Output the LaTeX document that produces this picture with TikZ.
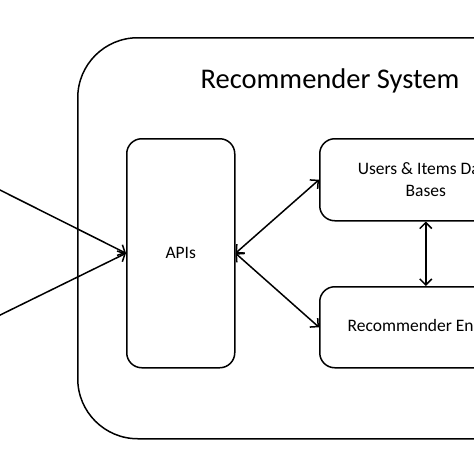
\documentclass[tikz,border=0pt]{standalone}
\usepackage{fontspec}
\setmainfont{Carlito}
\usetikzlibrary{arrows.meta}
\begin{document}
\begin{tikzpicture}[x=1pt,y=-1pt,
  box/.style={draw, line width=1.5pt, rounded corners=#1, inner sep=0pt, align=center, font=\fontsize{17.5}{22}\selectfont},
  box/.default=15pt,
  link/.style={line width=1.5pt, {Straight Barb[length=6pt,width=12pt]}-{Straight Barb[length=6pt,width=12pt]}},
  inlink/.style={line width=1.5pt, -{Straight Barb[length=6pt,width=12pt]}}]
\useasboundingbox (0,0) rectangle (474,474);
\clip (0,0) rectangle (474,474);
\fill[white] (0,0) rectangle (474,474);
\node[box=60pt, minimum width=600pt, minimum height=401pt, anchor=north west] (sys) at (77,37) {};
\node[font=\fontsize{28.5}{34}\selectfont] (title) at (330,81) {Recommender System};
\node[box, minimum width=108pt, minimum height=229pt, anchor=north west] (api) at (126,138) {APIs};
\node[box, minimum width=212pt, minimum height=82pt, anchor=north west] (db) at (319,138) {Users \& Items Data\\Bases};
\node[box, minimum width=212pt, minimum height=81pt, anchor=north west] (eng) at (319,286) {Recommender Engine};
\coordinate (in1) at (-10,185);
\coordinate (in2) at (-10,320);
\draw[inlink] (in1) -- (api.west);
\draw[inlink] (in2) -- (api.west);
\draw[link] (api.east) -- (db.west);
\draw[link] (api.east) -- (eng.west);
\draw[link] (db.south) -- (eng.north);
\end{tikzpicture}
\end{document}
